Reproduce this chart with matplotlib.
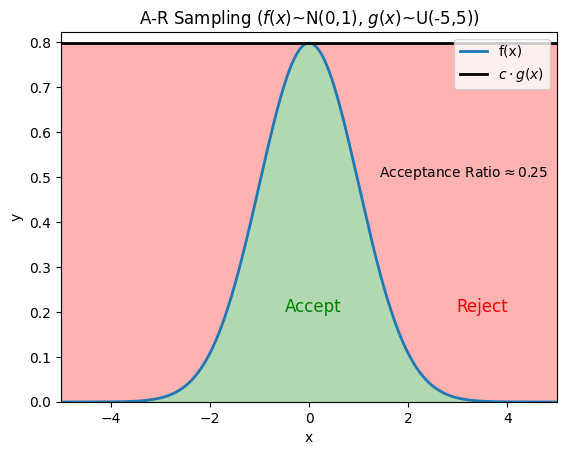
import numpy as np
import matplotlib
matplotlib.use("Agg")
import matplotlib.pyplot as plt

# Chart parameters
x_range = [-5, 5]
f_scale = 2.0          # f(x) = 2 * N(0,1) pdf
mu, sigma = 0.0, 1.0
g_low, g_high = -5, 5
acc_ratio = 0.25
yticks = [0.0, 0.1, 0.2, 0.3, 0.4, 0.5, 0.6, 0.7, 0.8]
xticks = [-4, -2, 0, 2, 4]

x = np.linspace(x_range[0], x_range[1], 1000)
f = f_scale * np.exp(-(x - mu) ** 2 / (2 * sigma ** 2)) / (sigma * np.sqrt(2 * np.pi))
c_g_val = f.max()
cg = np.full_like(x, c_g_val)

fig = plt.figure(figsize=(5.67, 4.55), dpi=100)
ax = fig.add_axes([0.1076, 0.1165, 0.8748, 0.8125])

ax.fill_between(x, f, cg, color='red', alpha=0.3, linewidth=0)
ax.fill_between(x, 0, f, color='green', alpha=0.3, linewidth=0)
ax.plot(x, f, color='#1f77b4', lw=2, label='f(x)')
ax.plot(x, cg, color='black', lw=2, label=r'$c \cdot g(x)$')

ax.text(0.08, 0.2, 'Accept', color='green', fontsize=12, ha='center')
ax.text(3.5, 0.2, 'Reject', color='red', fontsize=12, ha='center')
ax.text(3.12, 0.5, r'Acceptance Ratio$\approx$' + f'{acc_ratio:.2f}', fontsize=10, ha='center')

ax.set_xlim(x_range)
ax.set_ylim(0, c_g_val * 1.03)
ax.set_xticks(xticks)
ax.set_yticks(yticks)
ax.set_xlabel('x')
ax.set_ylabel('y')
ax.set_title(r'A-R Sampling ($f(x)$~N(0,1), $g(x)$~U(-5,5))')
ax.legend(loc='upper right')

fig.savefig('out.png', dpi=100)
